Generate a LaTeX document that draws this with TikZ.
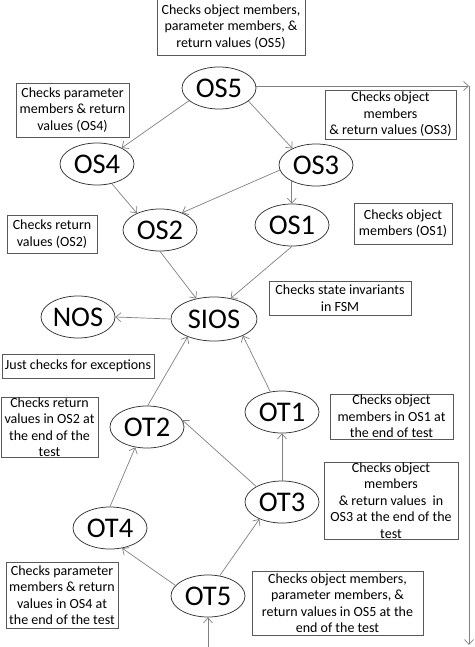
\documentclass[tikz,border=0pt]{standalone}
\usepackage{fontspec}
\setmainfont{Carlito}
\usetikzlibrary{arrows.meta,shapes.geometric}
\begin{document}
\begin{tikzpicture}[x=1pt,y=-1pt,
  st/.style={ellipse, draw=black!80, line width=0.75pt, minimum width=74pt, minimum height=42pt, inner sep=0pt, font=\fontsize{28.5}{31}\selectfont},
  bx/.style={draw=black!65, line width=0.8pt, align=center, inner sep=0pt, font=\fontsize{14}{16.4}\selectfont},
  ar/.style={draw=black!50, line width=0.7pt, -{Straight Barb[length=5pt,width=9pt]}}]
\useasboundingbox (0,0) rectangle (474,647);
% state nodes
\node[st] (os5) at (219,88) {OS5};
\node[st] (os4) at (97,164) {OS4};
\node[st] (os3) at (316,165) {OS3};
\node[st] (os2) at (160,230) {OS2};
\node[st] (os1) at (292,225) {OS1};
\node[st] (nos) at (78,317) {NOS};
\node[st, minimum width=86pt, minimum height=44pt] (sios) at (214,319) {SIOS};
\node[st] (ot2) at (147,427) {OT2};
\node[st] (ot1) at (282,412) {OT1};
\node[st] (ot3) at (282,502) {OT3};
\node[st] (ot4) at (110,528) {OT4};
\node[st] (ot5) at (208,596) {OT5};
% text boxes
\node[bx, minimum width=148pt, minimum height=56pt] (b5) at (231,27) {Checks object members,\\parameter members, \&\\return values (OS5)};
\node[bx, minimum width=113pt, minimum height=54pt] (b4) at (72.5,110) {Checks parameter\\members \& return\\values (OS4)};
\node[bx, minimum width=131pt, minimum height=49pt] (b3) at (390.5,114.5) {Checks object\\members\\\& return values (OS3)};
\node[bx, minimum width=90pt, minimum height=38pt] (b2) at (52,234) {Checks return\\values (OS2)};
\node[bx, minimum width=98pt, minimum height=41pt] (b1) at (403,223.5) {Checks object\\members (OS1)};
\node[bx, minimum width=142pt, minimum height=34pt] (bs) at (340,298) {Checks state invariants\\in FSM};
\node[bx, minimum width=152pt, minimum height=24pt] (bn) at (78,366) {Just checks for exceptions};
\node[bx, minimum width=97pt, minimum height=60pt, inner ysep=-2pt] (bt2) at (49.5,427) {Checks return\\values in OS2 at\\the end of the\\test};
\node[bx, minimum width=123pt, minimum height=45pt] (bt1) at (391.5,416.5) {Checks object\\members in OS1 at\\the end of test};
\node[bx, minimum width=134pt, minimum height=77pt, inner ysep=-1.5pt] (bt3) at (391,500.5) {Checks object\\members\\\& return values~ in\\OS3 at the end of the\\test};
\node[bx, minimum width=112pt, minimum height=66pt] (bt4) at (62,595) {Checks parameter\\members \& return\\values in OS4 at\\the end of the test};
\node[bx, minimum width=171pt, minimum height=64pt] (bt5) at (337.5,603) {Checks object members,\\parameter members, \&\\return values in OS5 at the\\end of the test};
% loop coordinates
\coordinate (r1) at (469,86);
\coordinate (r2) at (469,645);
\coordinate (b0) at (208,652);
% connectors
\draw[ar] (os5.203) -- (os4.33);
\draw[ar] (os5.336) -- (os3.145);
\draw[ar] (os4.307) -- (os2.144);
\draw[ar] (os3.188) -- (os2.38);
\draw[ar] (os3.214) -- (os3.214 |- os1.north);
\draw[ar] (os2.270) -- (sios.131);
\draw[ar] (os1.270) -- (sios.51);
\draw[ar] (sios.west) -- (nos.east);
\draw[ar] (ot2.88) -- (sios.214);
\draw[ar] (ot1.120) -- (sios.330);
\draw[ar] (ot4.90) -- (ot2.240);
\draw[ar] (ot3.149) -- (ot2.11);
\draw[ar] (ot3.90) -- (ot1.270);
\draw[ar] (ot5.162) -- (ot4.301);
\draw[ar] (ot5.60) -- (ot3.217);
\draw[ar] (os5.east |- r1) -- (r1);
\draw[ar] (r1) -- (r2);
\draw[ar] (b0) -- (ot5.south);
\end{tikzpicture}
\end{document}
